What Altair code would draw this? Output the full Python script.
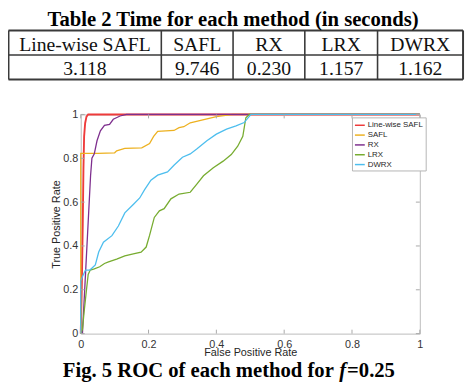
import altair as alt
import pandas as pd

# ---------------- data ----------------
methods = ["Line-wise SAFL", "SAFL", "RX", "LRX", "DWRX"]
times = ["3.118", "9.746", "0.230", "1.157", "1.162"]
colors = ["#ee3b3b", "#edb120", "#7e2f8e", "#77ac30", "#4dbeee"]

table_title = "Table 2 Time for each method (in seconds)"
caption_a = "Fig. 5 ROC of each method for"
caption_f = "f"
caption_b = "=0.25"

tick_values = [0, 0.2, 0.4, 0.6, 0.8, 1]

lw_safl_x = [0, 0.003, 0.006, 0.008, 0.010, 0.013, 0.017, 0.022, 1]
lw_safl_y = [0, 0.20, 0.50, 0.75, 0.90, 0.96, 0.99, 1.0, 1.0]

safl_x = [0, 0, 0.05, 0.10, 0.106, 0.13, 0.18, 0.203, 0.215, 0.227, 0.275, 0.29,
          0.304, 0.323, 0.36, 0.40, 0.449, 1]
safl_y = [0, 0.822, 0.822, 0.825, 0.834, 0.845, 0.848, 0.867, 0.90, 0.923, 0.927,
          0.94, 0.944, 0.962, 0.975, 0.99, 1.0, 1.0]

rx_x = [0.005, 0.029, 0.033, 0.040, 0.048, 0.058, 0.070, 0.085, 0.096, 0.116, 0.135, 1]
rx_y = [0, 0.72, 0.80, 0.82, 0.88, 0.925, 0.95, 0.955, 0.978, 0.993, 1.0, 1.0]

lrx_x = [0, 0.005, 0.010, 0.017, 0.022, 0.028, 0.040, 0.056, 0.070, 0.082, 0.106,
         0.130, 0.155, 0.178, 0.193, 0.203, 0.217, 0.232, 0.246, 0.266, 0.290,
         0.323, 0.343, 0.362, 0.391, 0.420, 0.444, 0.463, 0.478, 0.487, 0.497, 1]
lrx_y = [0, 0.02, 0.10, 0.20, 0.27, 0.29, 0.295, 0.305, 0.32, 0.327, 0.34,
         0.355, 0.364, 0.372, 0.395, 0.448, 0.53, 0.56, 0.57, 0.615, 0.637,
         0.645, 0.683, 0.72, 0.757, 0.787, 0.817, 0.855, 0.90, 0.985, 1.0, 1.0]

dwrx_x = [0, 0, 0.005, 0.014, 0.027, 0.043, 0.053, 0.067, 0.092, 0.111, 0.130,
          0.155, 0.174, 0.188, 0.207, 0.227, 0.256, 0.275, 0.300, 0.323, 0.343,
          0.372, 0.400, 0.430, 0.458, 0.482, 0.502, 1]
dwrx_y = [0, 0.24, 0.26, 0.29, 0.29, 0.313, 0.372, 0.417, 0.447, 0.491, 0.551,
          0.589, 0.619, 0.656, 0.700, 0.723, 0.738, 0.768, 0.805, 0.82, 0.843,
          0.88, 0.91, 0.933, 0.948, 0.963, 1.0, 1.0]

series = [
    ("Line-wise SAFL", lw_safl_x, lw_safl_y, 1.9),
    ("SAFL", safl_x, safl_y, 1.3),
    ("RX", rx_x, rx_y, 1.3),
    ("LRX", lrx_x, lrx_y, 1.3),
    ("DWRX", dwrx_x, dwrx_y, 1.3),
]

# ---------------- layout (pixels / table units) ----------------
W, H = 345, 223
col_edges = [0, 155.5, 228.5, 301.5, 375.5, 462.5]  # table units
table_px_range = [-73.5, 389]                           # relative to plot area
row_px_range = [-85.5, -35.5]                           # rows 0..2
text_row = 0.824
title_row = -0.2
caption_row = 14.1
title_x = 228.5
cap_split = 331.0
cap_f_x = 336.5
cap_b_x = 344.5

rows = []
for name, xs, ys, _w in series:
    for i, (a, b) in enumerate(zip(xs, ys)):
        rows.append({"method": name, "fpr": a, "tpr": b, "i": i})
df = pd.DataFrame(rows)

xs_scale = alt.Scale(domain=[0, 1], nice=False, zero=False)
ys_scale = alt.Scale(domain=[0, 1], nice=False, zero=False)
color_scale = alt.Scale(domain=methods, range=colors)

x_enc = alt.X("fpr:Q", scale=xs_scale,
              axis=alt.Axis(title="False Positive Rate", values=tick_values, format="~g",
                            grid=False, ticks=False, tickSize=0, domain=False,
                            labelFlush=False, labelPadding=5, titlePadding=-3,
                            labelFont="Liberation Sans", labelFontSize=11,
                            titleFont="Liberation Sans", titleFontSize=11,
                            titleFontWeight="normal", labelColor="#333333",
                            titleColor="#262626"))
y_enc = alt.Y("tpr:Q", scale=ys_scale,
              axis=alt.Axis(title="True Positive Rate", values=tick_values, format="~g",
                            grid=False, ticks=False, tickSize=0, domain=False,
                            labelFlush=False, labelPadding=3, titlePadding=1,
                            labelFont="Liberation Sans", labelFontSize=11,
                            titleFont="Liberation Sans", titleFontSize=11,
                            titleFontWeight="normal", labelColor="#333333",
                            titleColor="#262626"))
color_enc = alt.Color("method:N", scale=color_scale,
                      legend=alt.Legend(title=None, orient="none", legendX=276, legendY=3,
                                        symbolType="stroke", symbolSize=100,
                                        symbolStrokeWidth=1.5, labelFontSize=8,
                                        labelFont="Liberation Sans", labelColor="#262626",
                                        labelOffset=2, padding=2, rowPadding=0,
                                        strokeColor="#b5b5b5", fillColor="white"))

line_layers = []
for name, _xs, _ys, w in series:
    line_layers.append(
        alt.Chart(df).transform_filter(alt.datum.method == name)
        .mark_line(strokeWidth=w)
        .encode(x=x_enc, y=y_enc, color=color_enc, order="i:Q")
    )

tx_df = pd.DataFrame({"fpr": tick_values})
ty_df = pd.DataFrame({"tpr": tick_values})
tick_color = "#a8a8a8"
tick_layers = [
    alt.Chart(tx_df).mark_rule(color=tick_color).encode(x=x_enc, y=alt.value(H), y2=alt.value(H - 4)),
    alt.Chart(tx_df).mark_rule(color=tick_color).encode(x=x_enc, y=alt.value(0), y2=alt.value(4)),
    alt.Chart(ty_df).mark_rule(color=tick_color).encode(y=y_enc, x=alt.value(0), x2=alt.value(4)),
    alt.Chart(ty_df).mark_rule(color=tick_color).encode(y=y_enc, x=alt.value(W), x2=alt.value(W - 4)),
]

roc = alt.layer(*line_layers, *tick_layers)

# ---------------- table ----------------
tx_scale = alt.Scale(domain=[col_edges[0], col_edges[-1]], range=table_px_range, nice=False, zero=False)
ty_scale = alt.Scale(domain=[0, 2], range=row_px_range, nice=False, zero=False)

def TX(f):
    return alt.X(f, scale=tx_scale, axis=None)

def TY(f):
    return alt.Y(f, scale=ty_scale, axis=None)

hl = pd.DataFrame({"x": [col_edges[0]] * 3, "x2": [col_edges[-1]] * 3,
                   "y": [0, 1, 2], "w": [2.0, 1.6, 2.0]})
vl = pd.DataFrame({"x": col_edges, "y": [0] * len(col_edges), "y2": [2] * len(col_edges),
                   "w": [2.0] + [1.6] * (len(col_edges) - 2) + [2.0]})

centers = [(col_edges[k] + col_edges[k + 1]) / 2 for k in range(len(methods))]
cells = pd.DataFrame({
    "xc": centers + centers,
    "yb": [text_row] * len(methods) + [text_row + 1] * len(methods),
    "label": methods + times,
})

line_col = "#3a3a3a"
table_layers = [
    alt.Chart(hl).mark_rule(color=line_col).encode(
        x=TX("x:Q"), x2="x2:Q", y=TY("y:Q"), strokeWidth=alt.StrokeWidth("w:Q", scale=None)),
    alt.Chart(vl).mark_rule(color=line_col).encode(
        x=TX("x:Q"), y=TY("y:Q"), y2="y2:Q", strokeWidth=alt.StrokeWidth("w:Q", scale=None)),
    alt.Chart(cells).mark_text(font="Liberation Serif", fontSize=20, baseline="alphabetic",
                               align="center", color="#111111").encode(
        x=TX("xc:Q"), y=TY("yb:Q"), text="label:N"),
    alt.Chart(pd.DataFrame({"xc": [title_x], "yb": [title_row], "label": [table_title]}))
    .mark_text(font="Liberation Serif", fontSize=21, fontWeight="bold", baseline="alphabetic",
               align="center", color="#000000").encode(x=TX("xc:Q"), y=TY("yb:Q"), text="label:N"),
    alt.Chart(pd.DataFrame({"xc": [cap_split], "yb": [caption_row], "label": [caption_a]}))
    .mark_text(font="Liberation Serif", fontSize=21, fontWeight="bold", baseline="alphabetic",
               align="right", color="#000000").encode(x=TX("xc:Q"), y=TY("yb:Q"), text="label:N"),
    alt.Chart(pd.DataFrame({"xc": [cap_f_x], "yb": [caption_row], "label": [caption_f]}))
    .mark_text(font="Liberation Serif", fontSize=21, fontWeight="bold", fontStyle="italic",
               baseline="alphabetic", align="left", color="#000000").encode(
        x=TX("xc:Q"), y=TY("yb:Q"), text="label:N"),
    alt.Chart(pd.DataFrame({"xc": [cap_b_x], "yb": [caption_row], "label": [caption_b]}))
    .mark_text(font="Liberation Serif", fontSize=21, fontWeight="bold", baseline="alphabetic",
               align="left", color="#000000").encode(x=TX("xc:Q"), y=TY("yb:Q"), text="label:N"),
]
table = alt.layer(*table_layers)

chart = (
    alt.layer(roc, table)
    .resolve_scale(x="independent", y="independent")
    .properties(width=W, height=H,
                autosize=alt.AutoSizeParams(type="none"),
                padding={"left": 74, "top": 105, "right": 47, "bottom": 51})
    .configure_view(stroke="#bcbcbc", strokeWidth=1)
)

chart.save("out.html", embed_options={"renderer": "svg", "actions": False})
